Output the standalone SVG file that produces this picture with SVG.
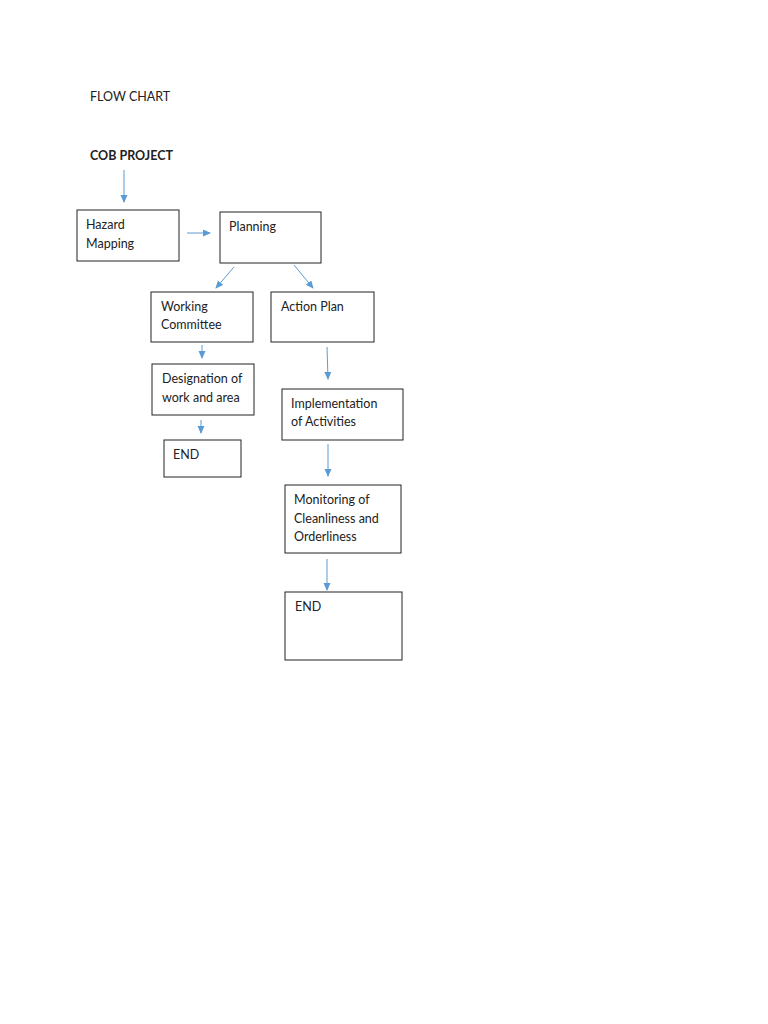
<svg xmlns="http://www.w3.org/2000/svg" width="768" height="1024" viewBox="0 0 768 1024">
<style>
text{font-family:Lato,"Open Sans","Liberation Sans",sans-serif;font-size:12.5px;fill:#222}
.b{font-weight:bold}
rect{fill:#fff;stroke:#222;stroke-width:1}
.c line{stroke:#5B9BD5;stroke-width:1;marker-end:url(#ah)}
</style>
<defs>
<marker id="ah" markerWidth="9" markerHeight="9" refX="7" refY="3.5" orient="auto" markerUnits="userSpaceOnUse">
<path d="M0,0 L8,3.5 L0,7 Z" fill="#5B9BD5"/>
</marker>
</defs>
<rect x="0" y="0" width="768" height="1024" style="fill:#fff;stroke:none"/>
<text x="90" y="101">FLOW CHART</text>
<text x="90" y="160" class="b">COB PROJECT</text>
<g class="c" id="connectors">
<line x1="124" y1="170" x2="124" y2="202"/>
<line x1="187" y1="233" x2="210" y2="233"/>
<line x1="234" y1="267" x2="216" y2="288"/>
<line x1="294" y1="265" x2="313" y2="288"/>
<line x1="202" y1="345" x2="202" y2="358"/>
<line x1="201" y1="420" x2="201" y2="433"/>
<line x1="327" y1="347" x2="328" y2="379"/>
<line x1="328" y1="444" x2="328" y2="476"/>
<line x1="327" y1="559" x2="327" y2="590"/>
</g>
<g id="hazard"><rect x="77" y="210" width="102" height="51"/><text x="86" y="229">Hazard</text><text x="86" y="248">Mapping</text></g>
<g id="planning"><rect x="220" y="212" width="101" height="51"/><text x="229" y="231">Planning</text></g>
<g id="working"><rect x="151" y="292" width="102" height="50"/><text x="161" y="311">Working</text><text x="161" y="329">Committee</text></g>
<g id="action"><rect x="271" y="292" width="103" height="50"/><text x="281" y="311">Action Plan</text></g>
<g id="designation"><rect x="152" y="364" width="102" height="51"/><text x="162" y="383">Designation of</text><text x="162" y="402">work and area</text></g>
<g id="end1"><rect x="164" y="440" width="77" height="37"/><text x="173" y="459">END</text></g>
<g id="implementation"><rect x="282" y="389" width="121" height="51"/><text x="291" y="408">Implementation</text><text x="291" y="426">of Activities</text></g>
<g id="monitoring"><rect x="285" y="485" width="116" height="68"/><text x="294" y="504">Monitoring of</text><text x="294" y="523">Cleanliness and</text><text x="294" y="541">Orderliness</text></g>
<g id="end2"><rect x="285" y="592" width="117" height="68"/><text x="295" y="611">END</text></g>
</svg>
